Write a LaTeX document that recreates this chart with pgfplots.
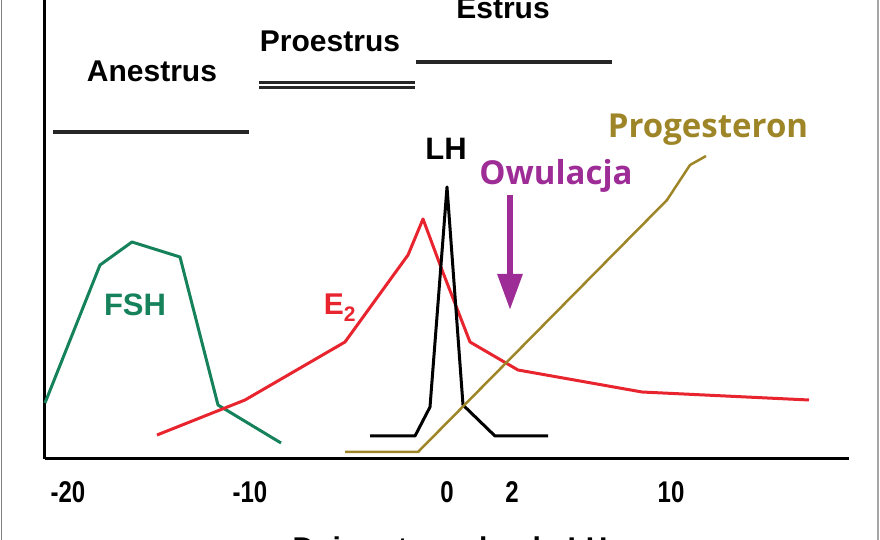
\documentclass[border=0pt]{standalone}
\usepackage{pgfplots}
\pgfplotsset{compat=1.18}
\usepackage{fontspec}
\setmainfont{Liberation Sans}
\newfontfamily\osans{Open Sans}
\usetikzlibrary{arrows.meta}
\definecolor{fshc}{RGB}{22,130,92}
\definecolor{e2c}{RGB}{232,36,46}
\definecolor{progc}{RGB}{158,134,40}
\definecolor{purp}{RGB}{158,44,150}
\newcommand\tl[1]{\scalebox{0.8}[1]{\fontsize{30bp}{34bp}\selectfont\bfseries #1}}
\begin{document}
\begin{tikzpicture}
\begin{axis}[
  scale only axis, width=804bp, height=459bp,
  xmin=45, xmax=849, ymin=81, ymax=540,
  axis x line=bottom, axis y line=left,
  axis line style={-, line width=3bp, black},
  xtick={68,250,447,512,671},
  xticklabels={\tl{-20},\tl{-10},\tl{0},\tl{2},\tl{10}},
  ytick=\empty,
  major tick length=0pt,
  xticklabel style={yshift=-19bp},
  clip=false,
]
% frame
\addplot[gray, line width=1.5bp] coordinates {(1.5,0) (1.5,540)};
\addplot[gray!70, line width=1.5bp] coordinates {(878,0) (878,540)};
% stage lines
\addplot[black!85, line width=4.5bp] coordinates {(53,408) (249,408)};
\addplot[black!85, line width=2.8bp] coordinates {(259,457.5) (415,457.5)};
\addplot[black!85, line width=2.8bp] coordinates {(259,452.3) (415,452.3)};
\addplot[black!85, line width=4.5bp] coordinates {(416,478) (612,478)};
% curves
\addplot[fshc, line width=3bp, line join=round] coordinates {(45,137) (100,275) (132,298) (180,283) (218,135) (281,97)};
\addplot[e2c, line width=3bp, line join=round] coordinates {(157,105) (245,140) (345,198) (408,285) (423,321) (442,270) (470,198) (518,170) (642,148) (809,140)};
\addplot[black, line width=3bp, line join=round] coordinates {(370,104) (415,104) (430,133) (447,353) (463,135) (495,104) (548,104)};
\addplot[progc, line width=2.5bp, line join=round] coordinates {(345,88) (418,88) (667,340) (690,375) (706,384)};
% ovulation arrow
\addplot[purp, line width=6bp, -{Triangle[length=36bp, width=24bp]}] coordinates {(510,345) (510,230)};
% labels
\node[anchor=base, font=\fontsize{30bp}{36bp}\selectfont\bfseries] at (axis cs:152,458) {Anestrus};
\node[anchor=base, font=\fontsize{30bp}{36bp}\selectfont\bfseries] at (axis cs:330,488) {Proestrus};
\node[anchor=base, font=\fontsize{30bp}{36bp}\selectfont\bfseries] at (axis cs:503,521) {Estrus};
\node[anchor=base, font=\fontsize{31bp}{36bp}\selectfont\bfseries, text=fshc] at (axis cs:135,224) {FSH};
\node[anchor=base, font=\fontsize{30bp}{36bp}\selectfont\bfseries, text=e2c] at (axis cs:340,225) {E\textsubscript{2}};
\node[anchor=base, font=\fontsize{31bp}{36bp}\selectfont\bfseries, text=black] at (axis cs:446,380) {LH};
\node[anchor=base, font=\fontsize{33bp}{40bp}\selectfont\osans\bfseries, text=purp] at (axis cs:556,355) {Owulacja};
\node[anchor=base, font=\fontsize{33bp}{40bp}\selectfont\osans\bfseries, text=progc] at (axis cs:708,402) {Progesteron};
\node[anchor=north, font=\fontsize{30bp}{36bp}\selectfont\bfseries] at (axis cs:450,7) {Dni w stosunku do LH};
\coordinate (BL) at (axis cs:0,0);
\coordinate (TR) at (axis cs:880,540);
\end{axis}
\pgfresetboundingbox
\useasboundingbox (BL) rectangle (TR);
\end{tikzpicture}
\end{document}
